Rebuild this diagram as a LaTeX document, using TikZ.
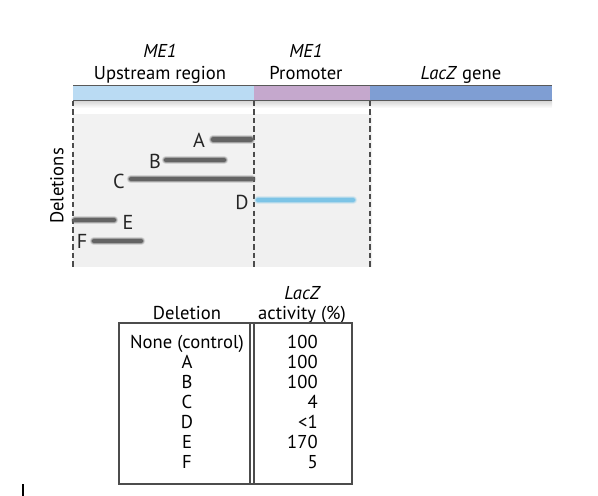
\documentclass[tikz,border=0pt]{standalone}
\usepackage{fontspec}
\setmainfont{PT Sans}
\definecolor{upstream}{RGB}{186,219,243}
\definecolor{promoter}{RGB}{197,168,205}
\definecolor{lacz}{RGB}{127,158,211}
\definecolor{delgray}{RGB}{100,100,100}
\definecolor{delblue}{RGB}{125,196,230}
\usetikzlibrary{positioning}

% blurred deletion bar: colour, start, end
\newcommand{\delbar}[3]{%
  \draw[#1, opacity=0.2, line width=4.8pt, line cap=round] #2 -- #3;
  \draw[#1, opacity=0.45, line width=3.6pt, line cap=round] #2 -- #3;
  \draw[#1, line width=2.4pt, line cap=round] #2 -- #3;}

\tikzset{
  lbl/.style={inner sep=0pt, font=\fontsize{10.6}{12}\selectfont},
  dellbl/.style={inner sep=0pt, font=\fontsize{11.5}{13}\selectfont, text=black!85},
  guide/.style={black!70, line width=0.7pt, dash pattern=on 3pt off 1.8pt},
}

\begin{document}
\begin{tikzpicture}[x=0.02cm, y=-0.02cm]
  \useasboundingbox (0,0) rectangle (598,496);

  % region labels
  \node[lbl, anchor=base] (me1a) at (160,58) {\itshape ME1};
  \node[lbl, anchor=base] (upstream) at (160,80) {Upstream region};
  \node[lbl, anchor=base] (me1b) at (306,58) {\itshape ME1};
  \node[lbl, anchor=base] (promoter) at (306,80) {Promoter};
  \node[lbl, anchor=base] (laczgene) at (461,80) {\textit{LacZ} gene};

  % construct bar
  \shade[top color=black!18, bottom color=white] (73,100) rectangle (552,108);
  \fill[upstream] (73,85) rectangle (254,100);
  \fill[promoter] (254,85) rectangle (370,100);
  \fill[lacz] (370,85) rectangle (552,100);
  \draw[black!65, line width=0.5pt] (73,85) -- (552,85) (73,100) -- (552,100);

  % deletion area
  \shade[top color=black!5, middle color=black!12, bottom color=black!6] (73,115) rectangle (372,267);
  \foreach \gx in {73,254,370}
    \draw[guide] (\gx,101) -- (\gx,268);

  \node[lbl, rotate=90] (deletions) at (57,186) {Deletions};

  % deletions A--F
  \delbar{delgray}{(213,139.5)}{(251,139.5)}
  \node[dellbl] (labA) at (199,140) {A};
  \delbar{delgray}{(166,160)}{(224,160)}
  \node[dellbl] (labB) at (155,161) {B};
  \delbar{delgray}{(131,179)}{(252,179)}
  \node[dellbl] (labC) at (119,181) {C};
  \delbar{delblue}{(258,200)}{(353,200)}
  \node[dellbl] (labD) at (242,202) {D};
  \delbar{delgray}{(75,220)}{(114,220)}
  \node[dellbl] (labE) at (128,222) {E};
  \delbar{delgray}{(94,241)}{(141,241)}
  \node[dellbl] (labF) at (82,241) {F};

  % table
  \node[lbl, anchor=base] (hdel) at (187,319) {Deletion};
  \node[lbl, anchor=base] (hlacz) at (302,300) {\itshape LacZ};
  \node[lbl, anchor=base] (hact) at (302,319) {activity (\%)};
  \draw[black!70, line width=0.8pt] (119,323) rectangle (352,484);
  \draw[black!70, line width=0.8pt] (250,323) -- (250,484) (254,323) -- (254,484);
  \foreach \name/\val [count=\i from 0] in
      {None (control)/100, A/100, B/100, C/4, D/{<}1, E/170, F/5} {
    \node[lbl, anchor=base] (del\i) at (187,348+20*\i) {\name};
    \node[lbl, anchor=base east] (act\i) at (318,348+20*\i) {\val};
  }

  \draw[black, line width=0.6pt] (23,484) -- (23,496);
\end{tikzpicture}
\end{document}
